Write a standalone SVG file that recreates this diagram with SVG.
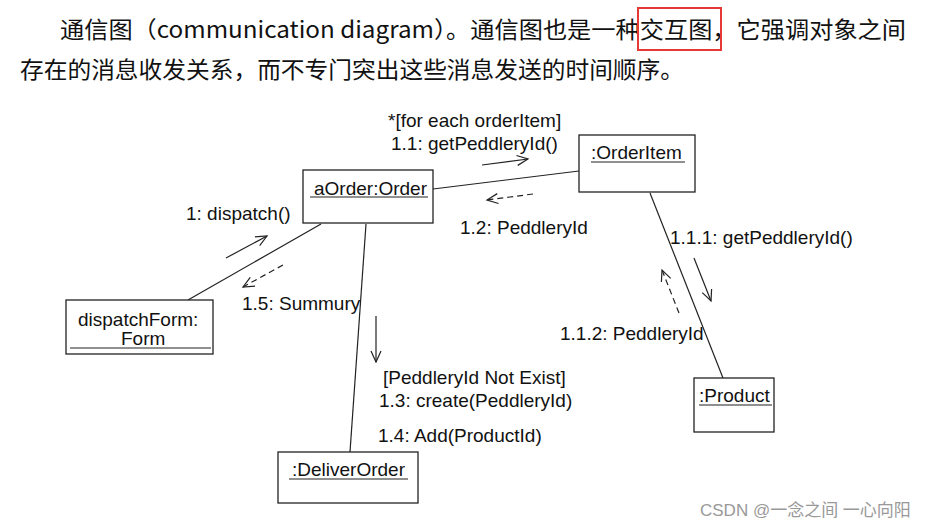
<svg xmlns="http://www.w3.org/2000/svg" width="951" height="528" viewBox="0 0 951 528">
<style>
.box{fill:#fff;stroke:#222;stroke-width:1.3}
.t{font-family:"Liberation Sans",Arial,sans-serif;font-size:19px;fill:#111}
.ul{stroke:#222;stroke-width:1.2}
.c{stroke:#222;stroke-width:1.2;fill:none}
.d{stroke-dasharray:6 4}
.h{font-family:"Noto Sans CJK SC","Noto Sans",sans-serif;font-size:23px;fill:#111}
</style>
<defs>
<marker id="a" markerWidth="14" markerHeight="12" refX="12" refY="6" orient="auto" markerUnits="userSpaceOnUse"><path d="M1,1 L12,6 L1,11" fill="none" stroke="#222" stroke-width="1.2"/></marker>
</defs>
<rect width="951" height="528" fill="#fff"/>
<text class="h" x="60" y="38" textLength="846" lengthAdjust="spacingAndGlyphs">通信图（communication diagram）。通信图也是一种交互图，它强调对象之间</text>
<text class="h" x="20" y="78" textLength="664" lengthAdjust="spacingAndGlyphs">存在的消息收发关系，而不专门突出这些消息发送的时间顺序。</text>
<rect x="638" y="8" width="83" height="42" fill="none" stroke="#e53935" stroke-width="2"/>
<g id="connectors">
<line class="c" x1="433" y1="189" x2="579" y2="171"/>
<line class="c" x1="321" y1="224" x2="188" y2="300"/>
<line class="c" x1="366" y1="224" x2="350" y2="452"/>
<line class="c" x1="650" y1="193" x2="723" y2="378"/>
<line class="c" x1="226" y1="258" x2="267" y2="236" marker-end="url(#a)"/>
<line class="c d" x1="283" y1="265" x2="243" y2="287" marker-end="url(#a)"/>
<line class="c" x1="482" y1="165" x2="528" y2="159" marker-end="url(#a)"/>
<line class="c d" x1="533" y1="194" x2="487" y2="200" marker-end="url(#a)"/>
<line class="c" x1="694" y1="258" x2="711" y2="301" marker-end="url(#a)"/>
<line class="c d" x1="679" y1="313" x2="662" y2="270" marker-end="url(#a)"/>
<line class="c" x1="376" y1="316" x2="376" y2="362" marker-end="url(#a)"/>
<text class="t" x="388" y="127">*[for each orderItem]</text>
<text class="t" x="391" y="150">1.1: getPeddleryId()</text>
<text class="t" x="460" y="234">1.2: PeddleryId</text>
<text class="t" x="186" y="220">1: dispatch()</text>
<text class="t" x="242" y="310">1.5: Summury</text>
<text class="t" x="670" y="244">1.1.1: getPeddleryId()</text>
<text class="t" x="560" y="340">1.1.2: PeddleryId</text>
<text class="t" x="383" y="384">[PeddleryId Not Exist]</text>
<text class="t" x="379" y="407">1.3: create(PeddleryId)</text>
<text class="t" x="378" y="442">1.4: Add(ProductId)</text>
</g>
<g id="aOrder">
<rect class="box" x="303" y="170" width="130" height="53"/>
<text class="t" x="314" y="195">aOrder:Order</text>
<line class="ul" x1="310" y1="197" x2="428" y2="197"/>
</g>
<g id="orderItem">
<rect class="box" x="579" y="135" width="116" height="57"/>
<text class="t" x="591" y="159">:OrderItem</text>
<line class="ul" x1="591" y1="162" x2="685" y2="162"/>
</g>
<g id="product">
<rect class="box" x="694" y="378" width="80" height="54"/>
<text class="t" x="699" y="402">:Product</text>
<line class="ul" x1="699" y1="405" x2="772" y2="405"/>
</g>
<g id="dispatchForm">
<rect class="box" x="66" y="300" width="147" height="54"/>
<text class="t" x="78" y="326">dispatchForm:</text>
<text class="t" x="121" y="345">Form</text>
<line class="ul" x1="70" y1="348" x2="211" y2="348"/>
</g>
<g id="deliverOrder">
<rect class="box" x="278" y="452" width="140" height="51"/>
<text class="t" x="292" y="476">:DeliverOrder</text>
<line class="ul" x1="289" y1="479" x2="408" y2="479"/>
</g>
<text x="700" y="516" font-family="'Liberation Sans','Noto Sans CJK SC',sans-serif" font-size="17" fill="#999">CSDN @一念之间 一心向阳</text>
</svg>
